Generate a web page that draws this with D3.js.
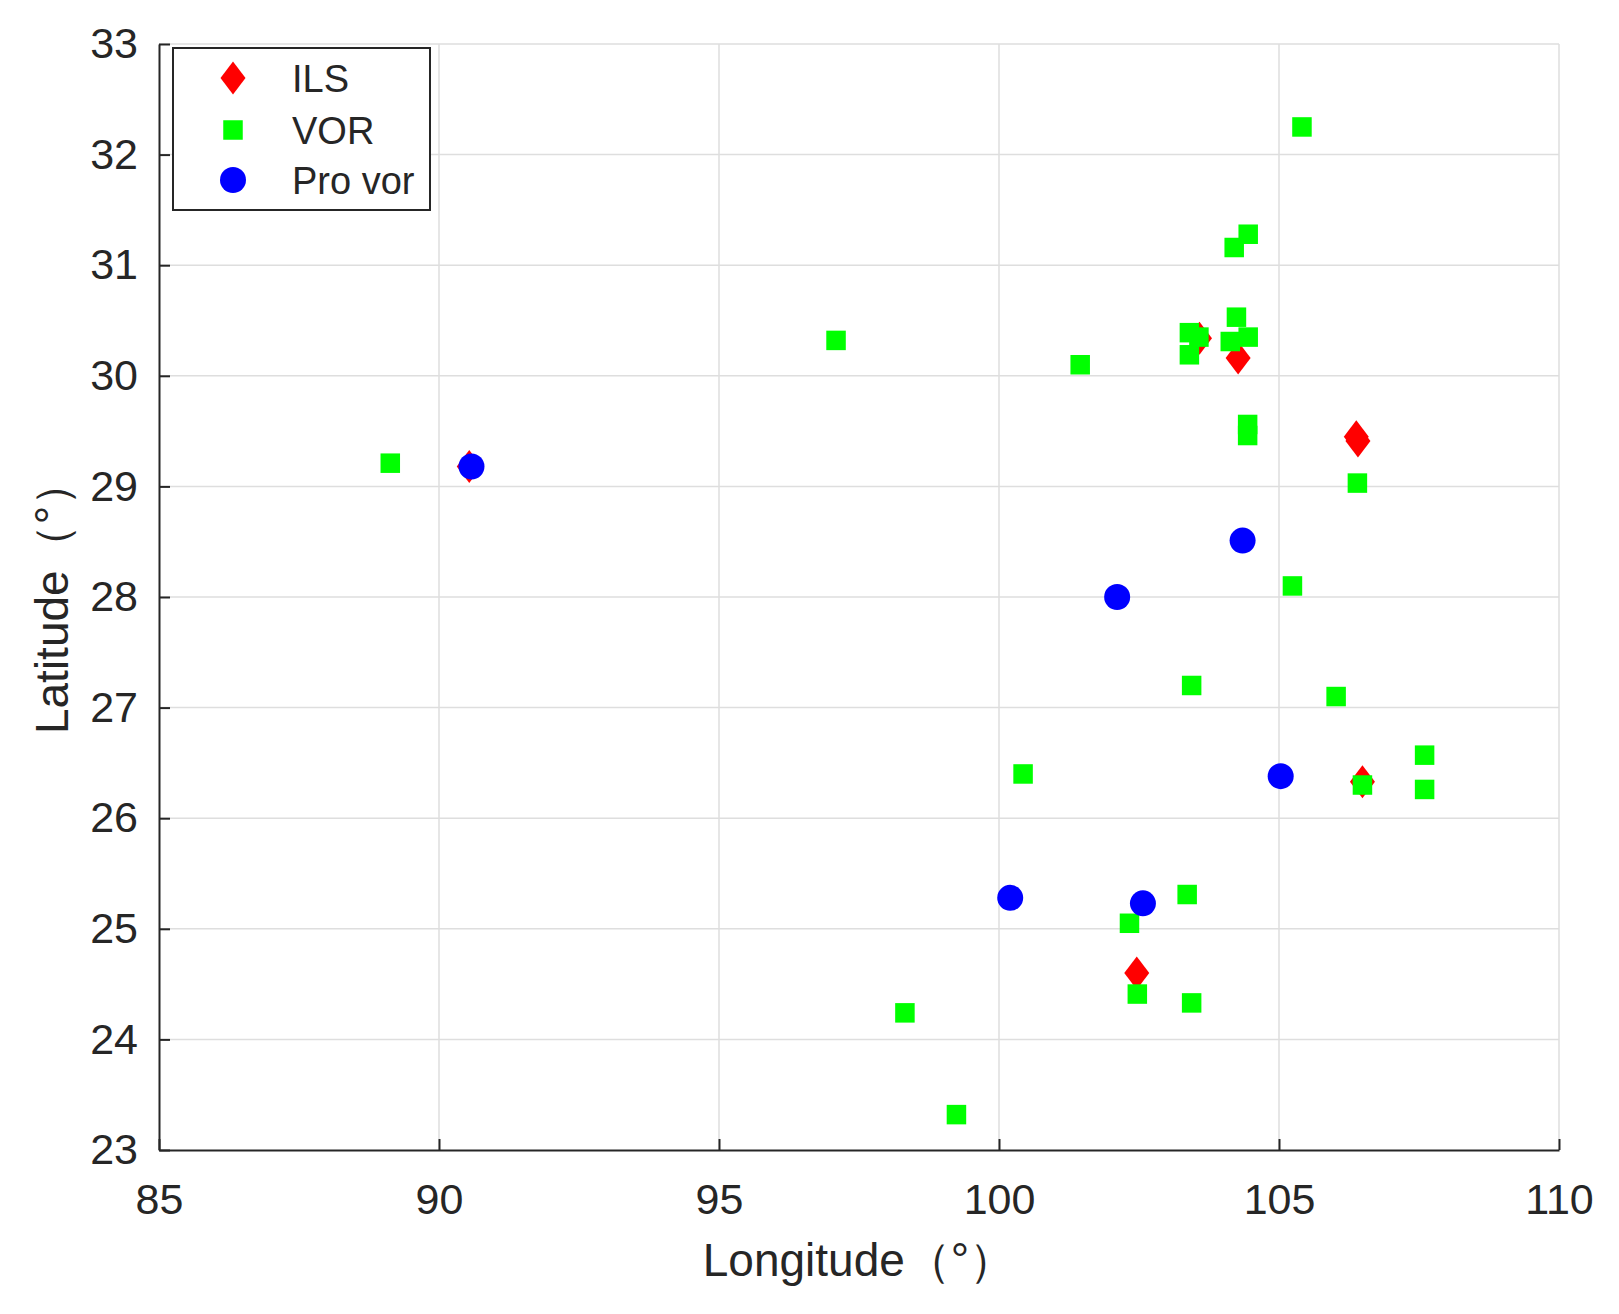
<!DOCTYPE html>
<html>
<head>
<meta charset="utf-8">
<script src="https://cdn.jsdelivr.net/npm/d3@7"></script>
<style>
  html, body { margin: 0; padding: 0; background: #fff; }
  svg { display: block; font-family: "Liberation Sans", Arial, sans-serif; }
</style>
</head>
<body>
<div id="chart"></div>
<script>
// ILS stations (lon, lat)
const ilsLon = [90.54, 103.58, 104.27, 106.38, 106.41, 106.49, 102.46];
const ilsLat = [29.18, 30.34, 30.16, 29.45, 29.41, 26.33, 24.60];

// VOR stations
const vorLon = [89.13, 97.09, 101.45, 103.40, 103.40, 103.57, 104.13, 104.24, 104.45, 104.20,
                104.45, 105.41, 104.44, 104.44, 106.40, 105.24, 103.44, 106.02, 107.60, 107.60,
                106.49, 100.43, 103.36, 102.33, 102.47, 103.44, 98.32, 99.24];
const vorLat = [29.21, 30.32, 30.10, 30.39, 30.19, 30.35, 30.31, 30.53, 30.35, 31.16,
                31.28, 32.25, 29.56, 29.46, 29.03, 28.10, 27.20, 27.10, 26.57, 26.26,
                26.30, 26.40, 25.31, 25.05, 24.41, 24.33, 24.24, 23.32];

// Proposed VOR
const proLon = [90.58, 104.35, 102.11, 105.03, 100.20, 102.57];
const proLat = [29.18, 28.51, 28.00, 26.38, 25.28, 25.23];

const xTicks = [85, 90, 95, 100, 105, 110];
const yTicks = [23, 24, 25, 26, 27, 28, 29, 30, 31, 32, 33];
const seriesNames = ['ILS', 'VOR', 'Pro vor'];

const width = 1619, height = 1314;
const margin = { left: 159, right: 60, top: 44, bottom: 164 };
const textColor = '#262626';

const svg = d3.select('#chart').append('svg')
    .attr('width', width)
    .attr('height', height);

svg.append('rect').attr('width', width).attr('height', height).attr('fill', '#fff');

const x = d3.scaleLinear().domain([85, 110]).range([margin.left, width - margin.right]);
const y = d3.scaleLinear().domain([23, 33]).range([height - margin.bottom, margin.top]);

// grid
const grid = svg.append('g').attr('class', 'grid');
grid.selectAll('.gx').data(xTicks.slice(1)).enter().append('line')
    .attr('x1', d => x(d)).attr('x2', d => x(d))
    .attr('y1', y(23)).attr('y2', y(33))
    .attr('stroke', '#dedede').attr('stroke-width', 1.5);
grid.selectAll('.gy').data(yTicks.slice(1)).enter().append('line')
    .attr('x1', x(85)).attr('x2', x(110))
    .attr('y1', d => y(d)).attr('y2', d => y(d))
    .attr('stroke', '#dedede').attr('stroke-width', 1.5);

// axes, ticks pointing inward
const xAxis = svg.append('g')
    .attr('transform', `translate(0,${y(23)})`)
    .call(d3.axisBottom(x).tickValues(xTicks).tickSizeInner(-11).tickSizeOuter(0).tickPadding(33));
const yAxis = svg.append('g')
    .attr('transform', `translate(${x(85)},0)`)
    .call(d3.axisLeft(y).tickValues(yTicks).tickSizeInner(-11).tickSizeOuter(0).tickPadding(21));

[xAxis, yAxis].forEach(a => {
    a.select('.domain').attr('stroke', textColor).attr('stroke-width', 2);
    a.selectAll('.tick line').attr('stroke', textColor).attr('stroke-width', 2);
    a.selectAll('.tick text')
        .attr('fill', textColor)
        .style('font-size', '43px')
        .style('font-family', '"Liberation Sans", Arial, sans-serif');
});
xAxis.selectAll('.tick text').attr('dy', '0.71em');

// axis titles
svg.append('text')
    .attr('x', (x(85) + x(110)) / 2)
    .attr('y', 1276)
    .attr('text-anchor', 'middle')
    .attr('fill', textColor)
    .style('font-size', '46px')
    .text('Longitude（°）');

svg.append('text')
    .attr('transform', `translate(68,${(y(23) + y(33)) / 2}) rotate(-90)`)
    .attr('text-anchor', 'middle')
    .attr('fill', textColor)
    .style('font-size', '46px')
    .text('Latitude（°）');

// markers
const diamond = (cx, cy) => `M${cx},${cy - 16.5}L${cx + 12.5},${cy}L${cx},${cy + 16.5}L${cx - 12.5},${cy}Z`;
const sq = 19.5;

const plot = svg.append('g');

plot.selectAll('.ils').data(d3.zip(ilsLon, ilsLat)).enter().append('path')
    .attr('class', 'ils')
    .attr('d', d => diamond(x(d[0]), y(d[1])))
    .attr('fill', '#ff0000');

plot.selectAll('.vor').data(d3.zip(vorLon, vorLat)).enter().append('rect')
    .attr('class', 'vor')
    .attr('x', d => x(d[0]) - sq / 2)
    .attr('y', d => y(d[1]) - sq / 2)
    .attr('width', sq).attr('height', sq)
    .attr('fill', '#00ff00');

plot.selectAll('.pro').data(d3.zip(proLon, proLat)).enter().append('circle')
    .attr('class', 'pro')
    .attr('cx', d => x(d[0]))
    .attr('cy', d => y(d[1]))
    .attr('r', 13)
    .attr('fill', '#0000ff');

// legend
const legend = svg.append('g');
legend.append('rect')
    .attr('x', 173).attr('y', 48)
    .attr('width', 257).attr('height', 162)
    .attr('fill', '#fff')
    .attr('stroke', textColor).attr('stroke-width', 2);

const rowY = [78, 130, 180];
const mx = 233;
legend.append('path').attr('d', diamond(mx, rowY[0])).attr('fill', '#ff0000');
legend.append('rect')
    .attr('x', mx - sq / 2).attr('y', rowY[1] - sq / 2)
    .attr('width', sq).attr('height', sq).attr('fill', '#00ff00');
legend.append('circle').attr('cx', mx).attr('cy', rowY[2]).attr('r', 13).attr('fill', '#0000ff');

legend.selectAll('.lt').data(seriesNames).enter().append('text')
    .attr('x', 292)
    .attr('y', (d, i) => rowY[i])
    .attr('dy', '0.36em')
    .attr('fill', textColor)
    .style('font-size', '38px')
    .text(d => d);
</script>
</body>
</html>
